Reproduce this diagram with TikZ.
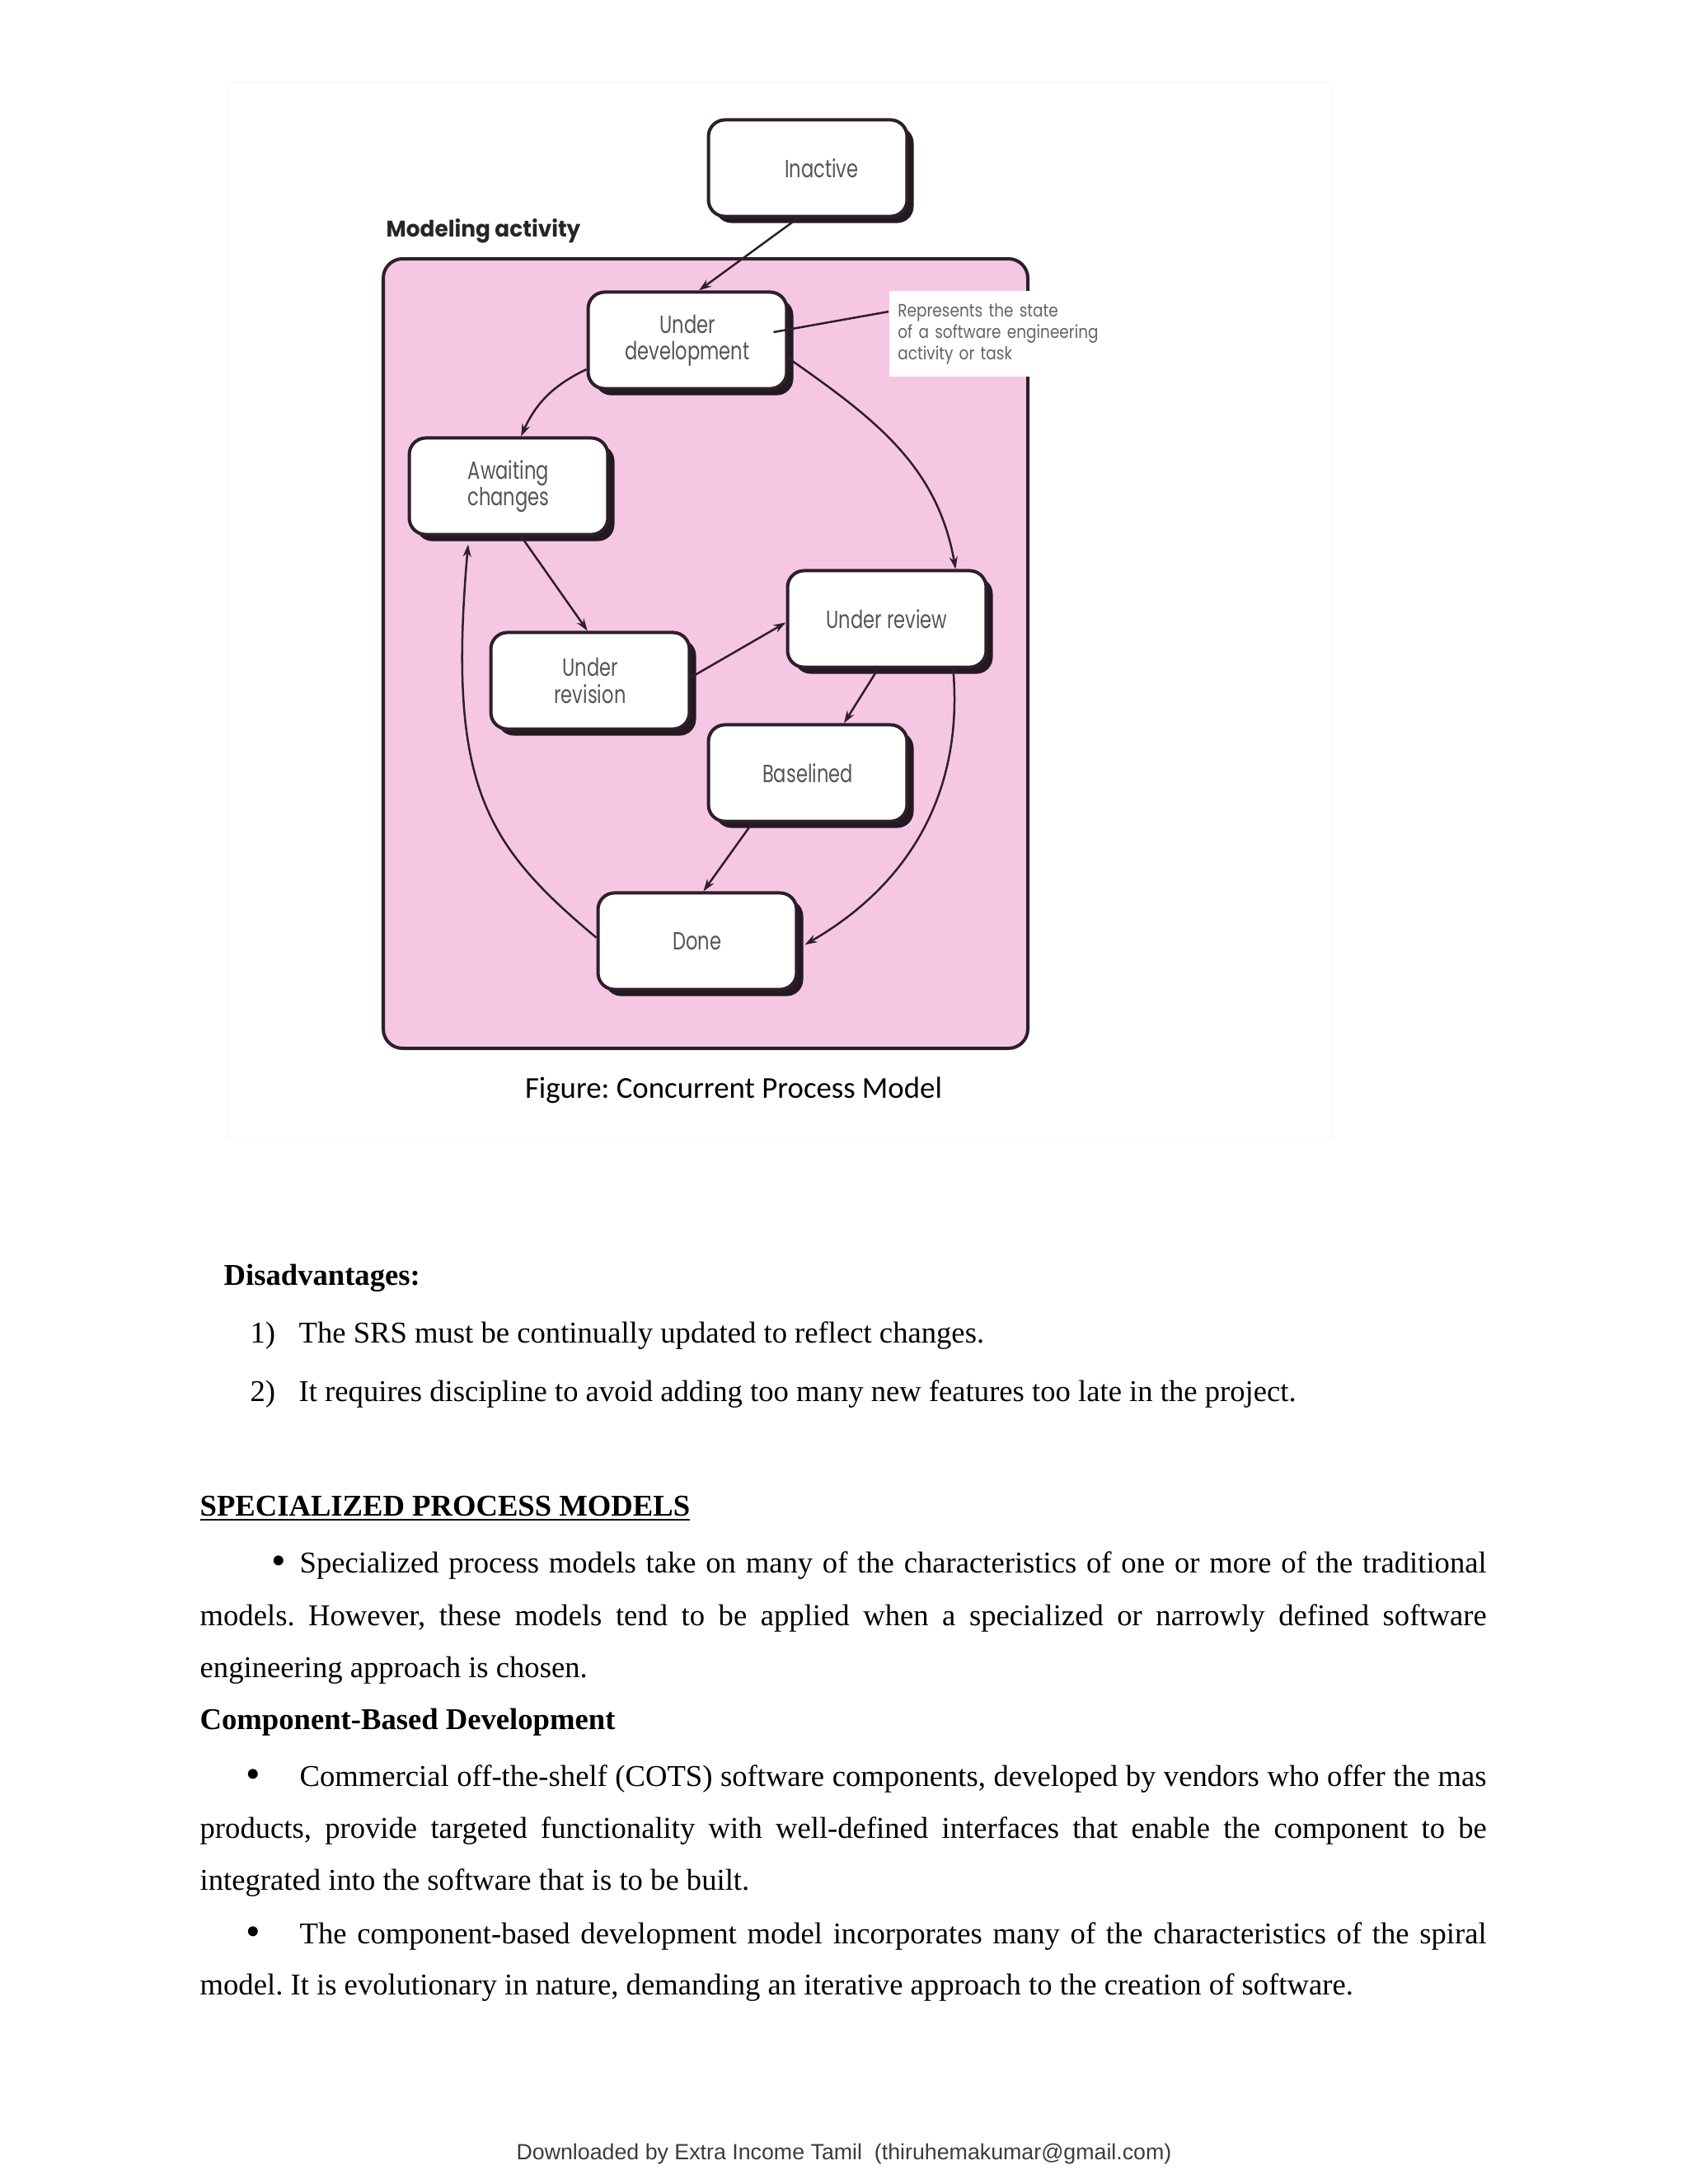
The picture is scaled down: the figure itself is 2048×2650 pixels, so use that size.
\documentclass[tikz,border=0pt]{standalone}
\usepackage{fontspec}
\setmainfont{Liberation Serif}
\newfontfamily\boxfont{Poppins}[FakeStretch=0.75]
\newfontfamily\notefont{Poppins}[FakeStretch=0.85]
\newfontfamily\lblfont{Poppins}[FakeStretch=0.96]
\newfontfamily\capfont{Carlito}
\newfontfamily\footfont{Liberation Sans}
\usetikzlibrary{arrows.meta,shadows}
\definecolor{pinkbg}{RGB}{246,199,227}
\definecolor{edgec}{RGB}{45,31,43}
\definecolor{shadowc}{RGB}{35,26,33}
\definecolor{boxtext}{RGB}{85,85,85}
\definecolor{notetext}{RGB}{100,100,100}
\definecolor{foottext}{RGB}{60,60,60}
\tikzset{
  stbox/.style={draw=edgec, line width=1.2pt, rounded corners=6pt, fill=white,
    minimum width=72pt, minimum height=35pt, inner sep=0pt, align=center,
    font=\boxfont\fontsize{9}{9.6}\selectfont, text=boxtext,
    drop shadow={shadow xshift=2.4pt, shadow yshift=-2.4pt, opacity=1, fill=shadowc}},
  arr/.style={draw=edgec, line width=0.75pt, -{Stealth[length=4.5pt,width=3pt]}},
  body/.style={inner sep=0pt, anchor=base west, font=\fontsize{10.95}{13}\selectfont},
  bul/.style={inner sep=0pt, anchor=base west, font=\fontsize{15}{15}\selectfont},
  notebox/.style={fill=white, inner xsep=3.2pt, inner ysep=4.6pt, align=left,
    text width=80pt, minimum height=30.8pt, text=notetext,
    font=\notefont\fontsize{6.5}{7.8}\selectfont,
    execute at begin node={\hyphenpenalty=10000\relax}}
}
\frenchspacing
\begin{document}
\begin{tikzpicture}[x=0.29883pt,y=0.29883pt]
\useasboundingbox (0,0) rectangle (2048,-2650);
\fill[white] (0,0) rectangle (2048,-2650);
% faint frame of the figure
\draw[black!2, line width=0.6pt] (277,-100) rectangle (1617,-1380);
% modeling activity area
\draw[draw=edgec, line width=1.2pt, fill=pinkbg, rounded corners=7pt] (465,-314) rectangle (1247,-1272);
\node[inner sep=0pt, anchor=base west, font=\lblfont\bfseries\fontsize{8.2}{9}\selectfont, text=black!85] (lbl) at (468,-287) {Modeling activity};
% note
\node[notebox, anchor=north west] (note) at (1078,-352) {Represents the state\\of a software engineering\\activity or task};
% states
\node[stbox] (inact) at (980,-204) {\hspace*{10pt}Inactive};
\node[stbox] (udev) at (834,-413) {Under\\development};
\node[stbox] (await) at (617,-590) {Awaiting\\changes};
\node[stbox] (urevi) at (716,-826) {Under\\revision};
\node[stbox] (urevw) at (1076,-751) {Under review};
\node[stbox] (basel) at (980,-938) {Baselined};
\node[stbox] (done) at (846,-1142) {Done};
% connectors
\draw[arr] (inact.-101) -- (udev.77);
\draw[arr] (udev.196) to[bend right=20] (await.76);
\draw[arr] (udev.-10) to[out=-35,in=100] (urevw.36);
\draw[arr] (await.-76) -- (urevi.93);
\draw[arr] (urevi.2) -- (urevw.182);
\draw[arr] (urevw.-100) -- (basel.54);
\draw[arr] (basel.-138) -- (done.83);
\draw[arr] (urevw.-37) to[out=-85,in=30] ([xshift=2.4pt]done.-2);
\draw[arr] (done.178) to[out=140,in=-95,out looseness=0.9,in looseness=1.5] ([yshift=-3pt]await.-129);
\draw[draw=edgec, line width=0.75pt] ([shift={(-18,10)}]udev.east) -- ([yshift=-7.8pt]note.north west);
% caption
\node[inner sep=0pt, anchor=base, font=\capfont\fontsize{11}{13}\selectfont] (cap) at (890,-1332) {Figure: Concurrent Process Model};
% body text
\node[body] (dis) at (271,-1559) {\bfseries Disadvantages:};
\node[body] (n1) at (303,-1629) {1)};
\node[body] (t1) at (362,-1629) {The SRS must be continually updated to reflect changes.};
\node[body] (n2) at (303,-1700) {2)};
\node[body] (t2) at (362,-1700) {It requires discipline to avoid adding too many new features too late in the project.};
\node[body] (spm) at (242,-1839) {\bfseries\underline{SPECIALIZED PROCESS MODELS}};
\node[bul] (b1) at (329,-1910) {•};
\node[body] (p1a) at (363,-1908) {\makebox[430.3pt][s]{Specialized process models take on many of the characteristics of one or more of the traditional}};
\node[body] (p1b) at (242,-1972) {\makebox[466.5pt][s]{models. However, these models tend to be applied when a specialized or narrowly defined software}};
\node[body] (p1c) at (242,-2035) {engineering approach is chosen.};
\node[body] (cbd) at (242,-2098) {\bfseries Component-Based Development};
\node[bul] (b2) at (298,-2169) {•};
\node[body] (p2a) at (363,-2167) {\makebox[430.3pt][s]{Commercial off-the-shelf (COTS) software components, developed by vendors who offer the mas}};
\node[body] (p2b) at (242,-2230) {\makebox[466.5pt][s]{products, provide targeted functionality with well-defined interfaces that enable the component to be}};
\node[body] (p2c) at (242,-2293) {integrated into the software that is to be built.};
\node[bul] (b3) at (298,-2360) {•};
\node[body] (p3a) at (363,-2358) {\makebox[430.3pt][s]{The component-based development model incorporates many of the characteristics of the spiral}};
\node[body] (p3b) at (242,-2420) {model. It is evolutionary in nature, demanding an iterative approach to the creation of software.};
% footer
\node[inner sep=0pt, anchor=base, font=\footfont\fontsize{8}{10}\selectfont, text=foottext] (foot) at (1024,-2620) {Downloaded by Extra Income Tamil\ \ (thiruhemakumar@gmail.com)};
\end{tikzpicture}
\end{document}
